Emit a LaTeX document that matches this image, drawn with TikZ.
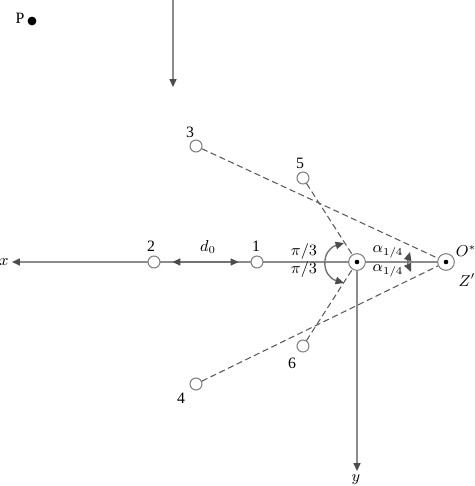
\documentclass[tikz,border=0pt]{standalone}
\usepackage{fontspec}
\setmainfont{Liberation Serif}
\usepackage{amsmath}
\usetikzlibrary{arrows.meta,shapes}
\pgfdeclarelayer{background}
\pgfsetlayers{background,main}
\tikzstyle{sensor}=[circle,draw=black!50,fill=white,line width=0.6pt,minimum size=6.8pt,inner sep=0pt]
\tikzstyle{hub}=[circle,draw=black!50,fill=white,line width=0.6pt,minimum size=9.5pt,inner sep=0pt,
    path picture={\fill[black] (path picture bounding box.center) circle (1.3pt);}]
\tikzstyle{dot}=[circle,fill=black,minimum size=5pt,inner sep=0pt]
\tikzstyle{axis} = [draw,black!45,line width=0.7pt,-{Triangle[length=4.5pt,width=4pt,color=black!70]}]
\tikzstyle{span} = [draw,black!55,line width=0.8pt,{Triangle[length=4.5pt,width=4pt,color=black!70]}-{Triangle[length=4.5pt,width=4pt,color=black!70]}]
\tikzstyle{ray} = [draw,black!65,line width=0.6pt,dash pattern=on 3.5pt off 2pt]
\tikzstyle{turn} = [draw,black!55,line width=0.8pt,{Triangle[length=4.8pt,width=4.2pt,color=black!70]}-{Triangle[length=4.8pt,width=4.2pt,color=black!70]}]

\begin{document}
\begin{tikzpicture}[x=0.02cm,y=-0.02cm,font=\fontsize{9}{10}\selectfont]
    \useasboundingbox (0,0) rectangle (474,486);
    % point P and the arrow coming in from above
    \node[dot] (P) at (32,21) {};
    \node (Plabel) at (20,18) {P};
    \coordinate (top) at (173,0);
    \coordinate (topend) at (173,87);
    \path[axis] (top) -- (topend);

    % the two hubs on the x axis
    \node[hub] (O) at (357,262) {};
    \node[hub] (Ostar) at (446,262) {};
    \node (Ostarlabel) at (466,251) {$O^{*}$};
    \node (Zlabel) at (467,280) {$Z'$};

    % First we draw the sensors and their numbers
    \foreach \pos/\name/\lpos in {{(257,262)/1/(256,246)}, {(154,262)/2/(151,246)}, {(196,146)/3/(190,132)},
                                  {(196,384)/4/(181,398)}, {(303,178)/5/(300,163)}, {(303,346)/6/(292,363)}}
    {
        \node[sensor] (s\name) at \pos {};
        \node (l\name) at \lpos {\name};
    }

    % axes behind the sensors
    \coordinate (xend) at (12,262);
    \coordinate (yend) at (357,471);
    \node (xlabel) at (4,262) {$x$};
    \node (ylabel) at (356,480) {$y$};
    \begin{pgfonlayer}{background}
        \path[axis] (Ostar) -- (xend);
        \path[axis] (O) -- (yend);
    \end{pgfonlayer}

    % spacing d0 between sensors 2 and 1
    \path[span] ([xshift=6.8pt]s2.east) -- ([xshift=-6.8pt]s1.west);
    \node (d0) at (208,247) {$d_0$};

    % Connect sensors with the hubs
    \foreach \source/ \dest in {s3/Ostar, s4/Ostar, s5/O, s6/O}
        \path[ray] (\source) -- (\dest);

    % angle marks
    \coordinate (pa) at (344,243);
    \coordinate (pb) at (344,283);
    \path[turn] (pa) .. controls (321,250) and (321,276) .. (pb);
    \node (pi1) at (304,252) {$\pi/3$};
    \node (pi2) at (304,270) {$\pi/3$};
    \coordinate (qa) at (410,252);
    \coordinate (qb) at (411,272);
    \path[turn] (qa) .. controls (408,259) and (408,265) .. (qb);
    \node (al1) at (388,252) {$\alpha_{1/4}$};
    \node (al2) at (388,271) {$\alpha_{1/4}$};
\end{tikzpicture}
\end{document}
